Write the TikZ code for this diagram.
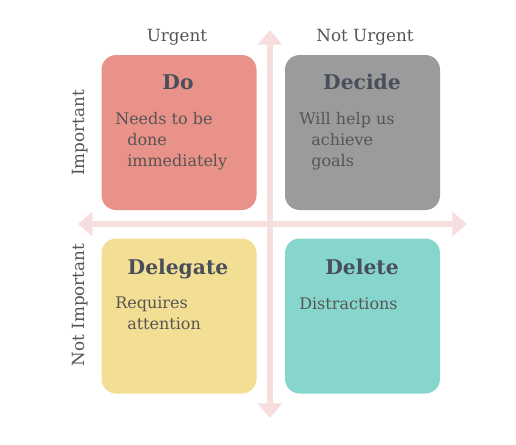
\documentclass[tikz,border=0pt]{standalone}
\usepackage{fontspec}
\setmainfont{DejaVu Serif}
\usetikzlibrary{arrows.meta,positioning}
\definecolor{doC}{RGB}{233,146,138}
\definecolor{decideC}{RGB}{155,155,155}
\definecolor{delegC}{RGB}{243,223,148}
\definecolor{deleteC}{RGB}{134,214,205}
\definecolor{axisC}{RGB}{246,222,222}
\definecolor{headC}{RGB}{72,78,90}
\definecolor{bodyC}{RGB}{88,84,84}
\tikzset{quad/.style={rounded corners=11pt,minimum width=116.25pt,minimum height=116.25pt,inner sep=0pt},
  head/.style={anchor=base,font=\fontsize{15.2}{18}\selectfont\bfseries,text=headC},
  body/.style={anchor=base west,align=left,inner sep=0pt,font=\fontsize{12}{15.75}\selectfont,text=bodyC},
  axlabel/.style={anchor=base,font=\fontsize{12.6}{15}\selectfont,text=bodyC},
  axis/.style={{Triangle[width=18pt,length=11pt]}-{Triangle[width=18pt,length=11pt]},line width=5pt,draw=axisC}}
\newcommand{\ind}{\hspace*{9pt}}

\begin{document}
\begin{tikzpicture}[x=0.75pt,y=-0.75pt]
\useasboundingbox (0,0) rectangle (516,444);
% axes
\coordinate (up) at (270,30); \coordinate (down) at (270,418);
\coordinate (left) at (78,224); \coordinate (right) at (467,224);
\draw[axis] (down)--(up);
\draw[axis] (left)--(right);
% quadrants
\node[quad,fill=doC] (do) at (179,132.5) {};
\node[quad,fill=decideC] (decide) at (362.5,132.5) {};
\node[quad,fill=delegC] (delegate) at (179,316) {};
\node[quad,fill=deleteC] (delete) at (362.5,316) {};
% texts (body anchored at last line)
\node[head] (doT) at (178,89.5) {Do};
\node[head] (decideT) at (362,89.5) {Decide};
\node[head] (delegateT) at (178,274.5) {Delegate};
\node[head] (deleteT) at (362,274.5) {Delete};
\node[body] (doB) at (115,166) {Needs to be\\\ind done\\\ind immediately};
\node[body] (decideB) at (299,166) {Will help us\\\ind achieve\\\ind goals};
\node[body] (delegateB) at (115,329) {Requires\\\ind attention};
\node[body] (deleteB) at (299,309) {Distractions};
% axis labels
\node[axlabel] (urg) at (177,41) {Urgent};
\node[axlabel] (nurg) at (365,41) {Not Urgent};
\node[axlabel,rotate=90] (imp) at (84,133) {Important};
\node[axlabel,rotate=90] (nimp) at (84,305) {Not Important};
\end{tikzpicture}
\end{document}
